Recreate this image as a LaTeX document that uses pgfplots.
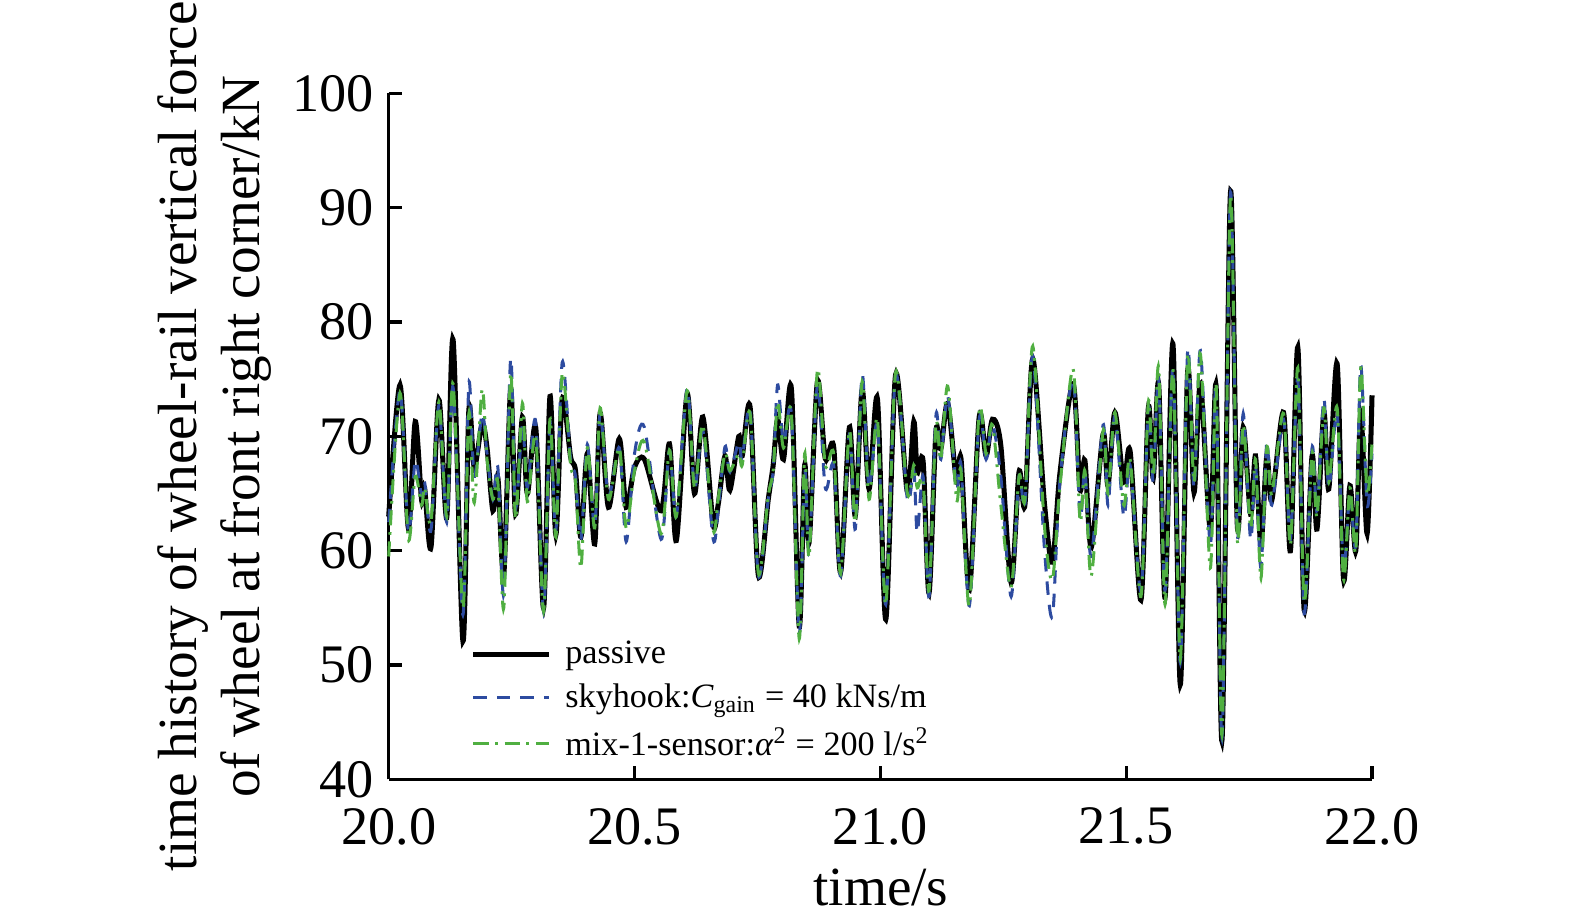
\documentclass[border=0pt]{standalone}
\usepackage{fontspec}
\setmainfont{Liberation Serif}
\usepackage{pgfplots}
\pgfplotsset{compat=1.18}
\usepackage{pgfplotstable}
\definecolor{skyblue}{RGB}{45,75,160}
\definecolor{mixgreen}{RGB}{80,175,65}

\pgfplotstableread{
t P S M
20.000 63.0 62.5 59.5
20.023 74.5 74.0 73.8
20.040 62.0 61.7 61.0
20.054 71.3 67.9 66.5
20.067 64.4 64.8 64.0
20.073 65.5 66.0 65.5
20.086 60.3 61.8 62.5
20.102 73.2 72.7 73.0
20.118 62.9 62.5 63.0
20.131 78.45 74.3 74.6
20.151 52.1 54.4 55.0
20.163 72.3 74.6 72.0
20.174 67.3 66.5 64.2
20.190 71.1 72.0 74.1
20.200 69.0 68.5 68.0
20.212 63.5 64.5 64.5
20.222 66.4 67.3 66.0
20.234 57.9 56.2 55.0
20.248 74.1 76.8 75.5
20.258 63.2 63.8 62.8
20.272 71.7 71.0 72.9
20.282 65.0 65.5 64.3
20.299 70.8 71.3 70.0
20.315 55.0 54.7 54.7
20.328 73.5 71.1 71.5
20.340 61.4 61.8 61.2
20.353 73.3 76.5 75.5
20.370 68.2 68.0 67.5
20.380 67.0 66.5 66.0
20.391 61.2 61.0 58.5
20.404 68.5 69.3 69.0
20.419 60.6 62.0 62.0
20.430 72.0 72.0 72.5
20.447 63.8 64.8 64.5
20.469 69.8 69.0 69.0
20.483 63.8 60.8 62.0
20.500 67.3 68.5 67.0
20.520 68.0 70.8 69.5
20.554 63.5 61.0 61.5
20.571 69.35 68.8 68.8
20.585 60.9 63.0 63.0
20.607 73.7 74.2 74.0
20.622 65.0 65.5 65.5
20.639 71.7 70.5 71.0
20.660 62.3 61.0 61.8
20.670 64.0 63.5 64.5
20.684 68.3 69.1 68.5
20.694 65.3 66.9 67.0
20.712 70.0 69.5 68.5
20.719 68.3 68.0 67.5
20.735 72.6 72.3 72.0
20.752 57.8 57.8 58.0
20.772 64.5 64.5 64.8
20.782 67.5 67.0 67.0
20.791 71.5 74.5 73.0
20.803 68.0 69.5 69.0
20.819 74.2 72.0 72.0
20.835 53.4 52.8 52.3
20.846 67.5 67.0 68.5
20.855 60.7 60.0 59.5
20.872 74.8 74.5 75.8
20.888 68.05 65.5 67.5
20.905 69.1 67.5 68.5
20.919 58.1 57.8 58.0
20.937 70.8 70.2 70.5
20.949 63.05 61.9 62.5
20.963 74.1 75.4 74.8
20.977 65.4 65.5 64.5
20.994 73.3 71.0 71.5
21.011 54.0 55.3 55.3
21.031 75.4 75.4 75.6
21.055 65.1 64.5 65.0
21.068 71.3 67.0 67.5
21.075 66.9 61.6 65.5
21.087 67.8 66.5 66.0
21.099 56.3 56.0 56.5
21.113 70.4 71.8 71.0
21.123 68.9 68.0 68.0
21.137 72.9 73.5 74.4
21.155 66.0 65.5 64.5
21.164 68.05 67.5 67.0
21.181 56.6 55.2 55.2
21.201 71.7 71.5 72.2
21.215 68.3 68.0 68.5
21.228 71.5 71.0 71.0
21.245 69.2 66.5 64.0
21.266 57.2 56.0 56.8
21.282 66.9 66.5 66.5
21.294 64.0 64.0 64.5
21.310 76.8 77.0 77.9
21.334 64.0 60.0 62.0
21.350 59.0 54.3 57.5
21.365 66.7 66.0 65.5
21.392 74.6 75.0 75.9
21.406 65.4 63.0 62.7
21.416 67.9 67.0 67.0
21.429 60.3 59.5 57.8
21.453 70.2 71.0 70.5
21.463 65.7 64.0 65.0
21.477 72.1 71.8 72.1
21.495 66.0 63.0 64.0
21.508 68.7 67.5 68.0
21.530 55.7 56.5 56.0
21.545 72.5 72.5 73.0
21.555 66.35 66.0 66.5
21.566 74.6 75.0 76.0
21.579 55.9 56.5 55.3
21.595 78.1 76.0 75.9
21.610 48.3 50.2 50.5
21.625 75.7 77.5 77.0
21.638 65.1 65.5 66.0
21.651 74.6 77.5 77.2
21.671 61.9 60.5 58.5
21.683 74.3 74.5 74.5
21.695 43.5 43.7 44.0
21.712 91.3 91.2 91.0
21.726 62.2 61.5 61.0
21.738 70.8 72.0 71.0
21.753 63.2 61.0 62.0
21.763 68.3 67.5 68.0
21.774 60.6 58.5 57.6
21.786 68.3 69.5 69.0
21.796 64.4 64.0 65.0
21.820 72.1 71.5 72.0
21.834 60.0 61.0 60.5
21.849 77.8 75.0 76.0
21.862 54.8 54.5 55.5
21.878 68.3 69.0 68.5
21.888 61.9 63.5 63.0
21.902 72.1 73.3 72.5
21.912 65.4 65.5 66.0
21.929 76.35 72.0 72.5
21.942 57.5 58.5 57.5
21.955 65.7 65.0 65.5
21.967 60.0 60.5 60.0
21.977 72.0 76.2 76.0
21.990 61.5 64.0 65.0
22.000 73.6 68.5 69.5
}\data

\begin{document}
\begin{tikzpicture}
\begin{axis}[
  scale only axis,
  width=293.7pt, height=204.9pt,
  xmin=20, xmax=22, ymin=40, ymax=100,
  axis x line*=bottom, axis y line*=left,
  axis line style={line width=1pt, black},
  xtick={20,20.5,21,21.5,22},
  ytick={40,50,60,70,80,90,100},
  tick align=inside,
  major tick length=4pt,
  tick style={line width=1pt, black},
  /pgf/number format/assume math mode=true,
  ticklabel style={font=\fontsize{16.2}{19}\selectfont},
  xticklabel style={/pgf/number format/fixed, /pgf/number format/fixed zerofill, /pgf/number format/precision=1, yshift=-5pt},
  yticklabel style={xshift=-1pt},
  clip=false,
  legend cell align=left,
  legend style={at={(0.083,0.213)}, anchor=north west, draw=none, fill=none,
     font=\fontsize{10.2}{12}\selectfont, row sep=0.5pt, inner sep=0pt,
     nodes={inner xsep=4.2pt}},
  legend image code/.code={\draw[#1] (0pt,0pt) -- (22.5pt,0pt);},
]
\addplot[black, line width=1.5pt, smooth, tension=0.5] table[x=t, y=P] {\data};
\addlegendentry{passive}
\addplot[skyblue, line width=0.9pt, dash pattern=on 4pt off 3pt, smooth, tension=0.5] table[x=t, y=S] {\data};
\addlegendentry{skyhook:\textit{C}\textsubscript{gain} = 40 kNs/m}
\addplot[mixgreen, line width=0.9pt, dash pattern=on 4.5pt off 2pt on 0.8pt off 2pt, smooth, tension=0.5] table[x=t, y=M] {\data};
\addlegendentry{mix-1-sensor:\textit{α}\textsuperscript{2} = 200 l/s\textsuperscript{2}}
\node[rotate=90, align=center, font=\fontsize{16.5}{18.6}\selectfont] at (rel axis cs:-0.177,0.5) {time history of wheel-rail vertical force\\of wheel at front right corner/kN};
\node[font=\fontsize{16.5}{19}\selectfont] at (rel axis cs:0.5005,-0.158) {time/s};
\coordinate (bl) at (rel axis cs:-0.3953,-0.205);
\coordinate (tr) at (rel axis cs:1.2064,1.1362);
\end{axis}
\pgfresetboundingbox
\path[use as bounding box] (bl) rectangle (tr);
\end{tikzpicture}
\end{document}
